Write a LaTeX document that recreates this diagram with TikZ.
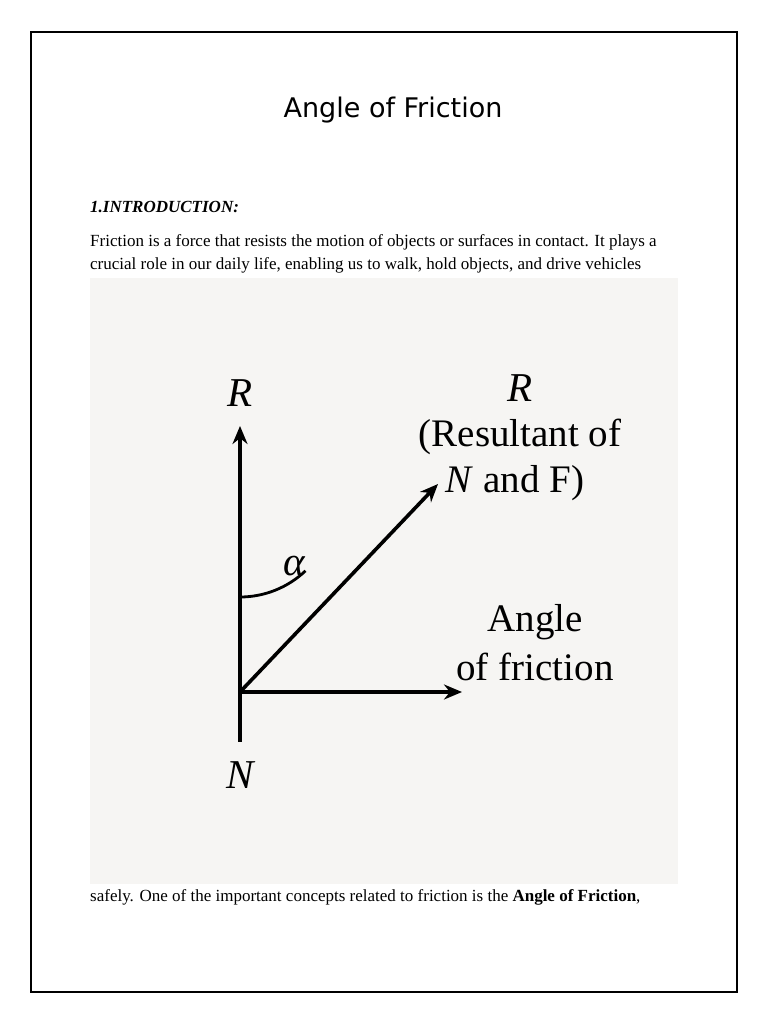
\documentclass[tikz,border=0pt]{standalone}
\usepackage{fontspec}
\setmainfont{Liberation Serif}
\newfontfamily\titlefont{DejaVu Sans}
\usetikzlibrary{arrows.meta}
\definecolor{photobg}{RGB}{246, 245, 243}

\begin{document}
\begin{tikzpicture}[
    x=1pt, y=-1pt,
    body/.style={anchor=west, font=\fontsize{17}{20}\selectfont, inner sep=0pt},
    lbl/.style={font=\fontsize{39}{42}\selectfont, inner sep=0pt},
    force/.style={-{Stealth[length=18pt,width=15pt]}, line width=3.6pt}
]
\useasboundingbox (0,0) rectangle (768,1024);
\draw[line width=1.8pt] (31,32) rectangle (737,992);

\node[font=\titlefont\fontsize{27}{30}\selectfont] (title) at (393,110) {Angle of Friction};
\node[body, font=\fontsize{17}{20}\selectfont\bfseries\itshape] (intro) at (90,207) {1.INTRODUCTION:};
\node[body] (line1) at (90,242) {Friction is a force that resists the motion of objects or surfaces in contact. It plays a};
\node[body] (line2) at (90,265) {crucial role in our daily life, enabling us to walk, hold objects, and drive vehicles};

% photo
\fill[photobg] (90,278) rectangle (678,884);

\coordinate (O) at (240,692);
\coordinate (down) at (240,742);
\coordinate (up) at (240,426);
\coordinate (right) at (462,692);
\coordinate (diag) at (438,484);

\draw[line width=3.6pt] (O) -- (down);
\draw[force] (O) -- (up);
\draw[force] (O) -- (right);
\draw[force] (O) -- (diag);
\draw[line width=2.8pt] (240,597) arc[start angle=90, end angle=46.4, radius=95];

\node[lbl, font=\fontsize{41}{44}\selectfont\itshape] (R1) at (240,393) {R};
\node[lbl, font=\fontsize{41}{44}\selectfont\itshape] (N1) at (240,775) {N};
\node[lbl, font=\fontsize{41}{44}\selectfont\itshape] (R2) at (520,388) {R};
\node[lbl] (res1) at (520,437) {(Resultant of};
\node[lbl] (res2) at (515,483) {\textit{N} and F)};
\node[lbl, font=\fontsize{41}{44}\selectfont\itshape] (alpha) at (294,566) {α};
\node[lbl] (ang1) at (535,622) {Angle};
\node[lbl] (ang2) at (535,667) {of friction};

\node[body] (line3) at (90,897) {safely. One of the important concepts related to friction is the \textbf{Angle of Friction},};
\end{tikzpicture}
\end{document}
